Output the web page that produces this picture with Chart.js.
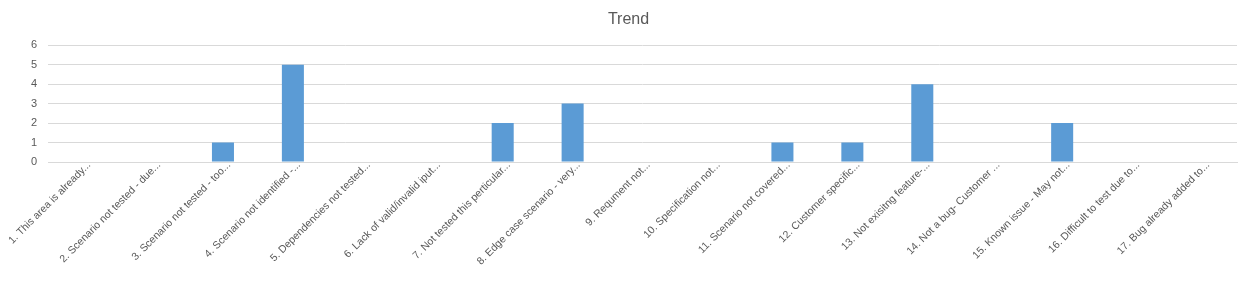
<!DOCTYPE html>
<html>
<head>
<meta charset="utf-8">
<script src="https://cdn.jsdelivr.net/npm/chart.js@4.4.0/dist/chart.umd.min.js"></script>
<style>
  html, body { margin: 0; padding: 0; background: #fff; }
  #wrap { width: 1241px; height: 284px; }
</style>
</head>
<body>
<div id="wrap"><canvas id="trend-chart"></canvas></div>
<script>
const categories = [
  '1. This area is already...',
  '2. Scenario not tested - due...',
  '3. Scenario not tested - too...',
  '4. Scenario not identified -...',
  '5. Dependencies not tested...',
  '6. Lack of valid/invalid iput...',
  '7. Not tested this perticular...',
  '8. Edge case scenario - very...',
  '9. Requment not...',
  '10. Specification not...',
  '11. Scenario not covered...',
  '12. Customer specific...',
  '13. Not exisitng feature-...',
  '14. Not a bug- Customer ...',
  '15. Known issue - May not...',
  '16. Difficult to test due to...',
  '17. Bug already added to...'
];
const counts = [0, 0, 1, 5, 0, 0, 2, 3, 0, 0, 1, 1, 4, 0, 2, 0, 0];
const yTicks = [0, 1, 2, 3, 4, 5, 6];

const textColor = '#595959';
const gridColor = '#d9d9d9';

const ctx = document.getElementById('trend-chart').getContext('2d');
new Chart(ctx, {
  type: 'bar',
  data: {
    labels: categories,
    datasets: [{
      label: 'Trend',
      data: counts,
      backgroundColor: '#5b9bd5',
      borderWidth: 0,
      categoryPercentage: 1,
      barPercentage: 0.315
    }]
  },
  options: {
    responsive: true,
    maintainAspectRatio: false,
    animation: false,
    layout: { padding: { left: 20, right: 4, top: 0, bottom: 0 } },
    plugins: {
      legend: { display: false },
      tooltip: { enabled: false },
      title: {
        display: true,
        text: 'Trend',
        color: textColor,
        font: { family: 'Liberation Sans', size: 16, weight: 'normal' },
        padding: { top: 10, bottom: 16 }
      }
    },
    scales: {
      x: {
        grid: { display: false, drawTicks: false },
        border: { display: true, color: gridColor },
        afterFit: scale => { scale.height = 122; },
        ticks: {
          color: textColor,
          font: { family: 'Liberation Sans', size: 10.5 },
          minRotation: 45,
          maxRotation: 45,
          autoSkip: false,
          padding: -3,
          labelOffset: 6
        }
      },
      y: {
        min: yTicks[0],
        max: yTicks[yTicks.length - 1],
        afterBuildTicks: axis => { axis.ticks = yTicks.map(v => ({ value: v })); },
        grid: { color: gridColor, drawTicks: false },
        border: { display: false },
        ticks: {
          color: textColor,
          font: { family: 'Liberation Sans', size: 11 },
          padding: 11
        }
      }
    }
  }
});
</script>
</body>
</html>
